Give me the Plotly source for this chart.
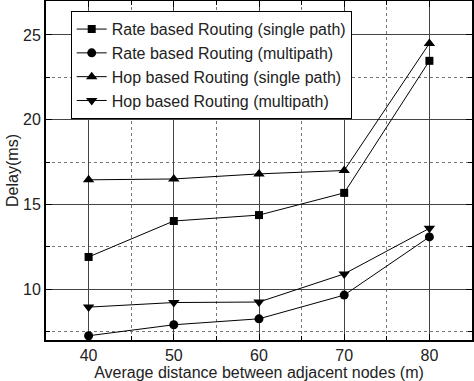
import plotly.graph_objects as go

x_vals = [40, 50, 60, 70, 80]
rate_single = [11.9, 14.02, 14.37, 15.68, 23.47]
rate_multi = [7.25, 7.9, 8.25, 9.65, 13.08]
hop_single = [16.45, 16.5, 16.8, 17.0, 24.5]
hop_multi = [8.94, 9.21, 9.24, 10.9, 13.59]

names = ["Rate based Routing (single path)", "Rate based Routing (multipath)",
         "Hop based Routing (single path)", "Hop based Routing (multipath)"]
series = [rate_single, rate_multi, hop_single, hop_multi]
symbols = ["square", "circle", "triangle-up", "triangle-down"]
sizes = [8, 9, 10, 10]

FONT = "Liberation Sans, Arial"

fig = go.Figure()
for n, s, sym, sz in zip(names, series, symbols, sizes):
    fig.add_trace(go.Scatter(x=x_vals, y=s, name=n, mode="lines+markers",
                             line=dict(color="black", width=1),
                             marker=dict(symbol=sym, size=sz, color="black")))

axis_common = dict(showline=True, linecolor="black", linewidth=2, mirror="ticks",
                   ticks="inside", ticklen=6, tickcolor="black", tickwidth=1,
                   showgrid=True, gridcolor="#444", gridwidth=1, zeroline=False,
                   automargin=False,
                   tickfont=dict(family=FONT, size=16, color="#222"))

fig.update_xaxes(range=[35, 85], tickvals=[40, 50, 60, 70, 80],
                 minor=dict(tickvals=[45, 55, 65, 75], ticks="inside", ticklen=4,
                            showgrid=True, gridcolor="#777", griddash="dot", gridwidth=1),
                 title=dict(text="Average distance between adjacent nodes (m)", standoff=0,
                            font=dict(family=FONT, size=16, color="#222")),
                 **axis_common)
fig.update_yaxes(range=[7, 27], tickvals=[10, 15, 20, 25],
                 minor=dict(tickvals=[7.5, 12.5, 17.5, 22.5], ticks="inside", ticklen=4,
                            showgrid=True, gridcolor="#777", griddash="dot", gridwidth=1),
                 title=dict(text="Delay(ms)", standoff=0,
                            font=dict(family=FONT, size=16, color="#222")),
                 **axis_common)

fig.update_layout(
    width=474, height=381,
    margin=dict(l=46, r=2, t=1, b=41),
    plot_bgcolor="white", paper_bgcolor="white",
    showlegend=True,
    legend=dict(x=0.058, y=0.97, xanchor="left", yanchor="top",
                bordercolor="black", borderwidth=1, bgcolor="white",
                font=dict(family=FONT, size=16, color="#222"),
                tracegroupgap=0, itemwidth=30),
)

fig.write_html("out.html", config={"responsive": False, "displayModeBar": False},
               post_script="document.body.style.margin='0px';document.body.style.overflow='hidden';")
